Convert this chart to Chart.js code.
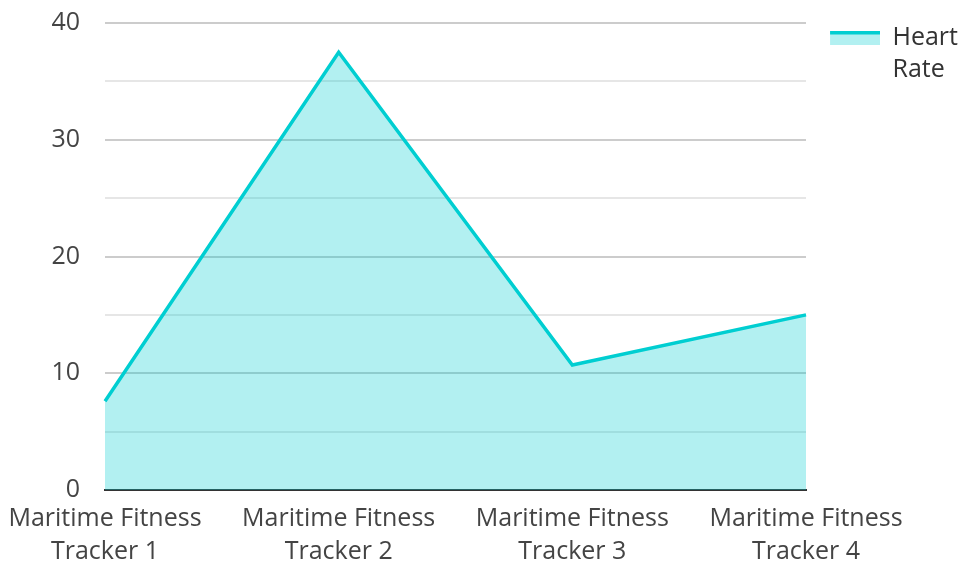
<!DOCTYPE html>
<html>
<head>
<meta charset="utf-8">
<script src="https://cdn.jsdelivr.net/npm/chart.js@4/dist/chart.umd.min.js"></script>
<style>
    html, body { margin: 0; padding: 0; background: #fff; }
    #wrap { width: 959px; height: 562px; }
</style>
</head>
<body>
<div id="wrap"><canvas id="heartChart"></canvas></div>
<script>
// данные графика
const categories = [
    ['Maritime Fitness', 'Tracker 1'],
    ['Maritime Fitness', 'Tracker 2'],
    ['Maritime Fitness', 'Tracker 3'],
    ['Maritime Fitness', 'Tracker 4']
];
const heartRate = [7.6, 37.5, 10.7, 15.0];
const seriesName = 'Heart Rate';
const yTicks = [0, 10, 20, 30, 40];

const teal = 'rgb(0, 206, 209)';
const tealFill = 'rgba(0, 206, 209, 0.3)';

// значок легенды: линия сверху, заливка снизу (слева прозрачный отступ)
const legendIcon = document.createElement('canvas');
legendIcon.width = 64;
legendIcon.height = 14;
const ic = legendIcon.getContext('2d');
ic.fillStyle = tealFill;
ic.fillRect(14, 0, 50, 14);
ic.fillStyle = teal;
ic.fillRect(14, 0, 50, 4);

Chart.defaults.font.family = '"Open Sans", "Noto Sans", sans-serif';
Chart.defaults.font.size = 25;
Chart.defaults.color = '#444';

const ctx = document.getElementById('heartChart').getContext('2d');

new Chart(ctx, {
    type: 'line',
    data: {
        labels: categories,
        datasets: [{
            label: seriesName,
            data: heartRate,
            borderColor: teal,
            backgroundColor: tealFill,
            borderWidth: 3.5,
            fill: 'origin',
            tension: 0,
            pointRadius: 0,
            pointHoverRadius: 0
        }]
    },
    options: {
        responsive: true,
        maintainAspectRatio: false,
        animation: false,
        layout: {
            padding: { left: 8, top: -17, right: -9, bottom: 0 }
        },
        scales: {
            x: {
                offset: false,
                grid: { display: false, drawTicks: false },
                border: { display: true, color: '#333', width: 2 },
                ticks: {
                    maxRotation: 0,
                    autoSkip: false,
                    padding: 13,
                    font: { size: 25, lineHeight: 1.3 }
                },
                // высота оси и левый отступ области графика
                afterFit: (scale) => {
                    scale.height = 72;
                    scale.paddingLeft = 105;
                }
            },
            y: {
                min: yTicks[0],
                max: yTicks[yTicks.length - 1],
                border: { display: false },
                grid: {
                    drawTicks: false,
                    color: (c) => (c.tick && c.tick.value % 10 === 0) ? '#cccccc' : '#e6e6e6',
                    lineWidth: 2
                },
                ticks: {
                    stepSize: 5,
                    padding: 25,
                    callback: (v) => yTicks.includes(v) ? String(v) : ''
                },
                // верхний отступ области графика
                afterFit: (scale) => { scale.paddingTop = 23; }
            }
        },
        plugins: {
            legend: {
                position: 'right',
                align: 'start',
                title: {
                    display: true,
                    text: '',
                    padding: { top: 31, bottom: 0 },
                    font: { size: 1, lineHeight: 1 }
                },
                labels: {
                    usePointStyle: true,
                    pointStyle: legendIcon,
                    pointStyleWidth: 64,
                    boxWidth: 64,
                    boxHeight: 14,
                    padding: 10,
                    color: '#333',
                    font: { size: 25, lineHeight: 1.3 },
                    generateLabels: (chart) => {
                        const items = Chart.defaults.plugins.legend.labels.generateLabels(chart);
                        items.forEach(it => {
                            it.text = it.text.split(' ');
                            it.pointStyle = legendIcon;
                        });
                        return items;
                    }
                }
            },
            tooltip: { enabled: false }
        }
    }
});
</script>
</body>
</html>
